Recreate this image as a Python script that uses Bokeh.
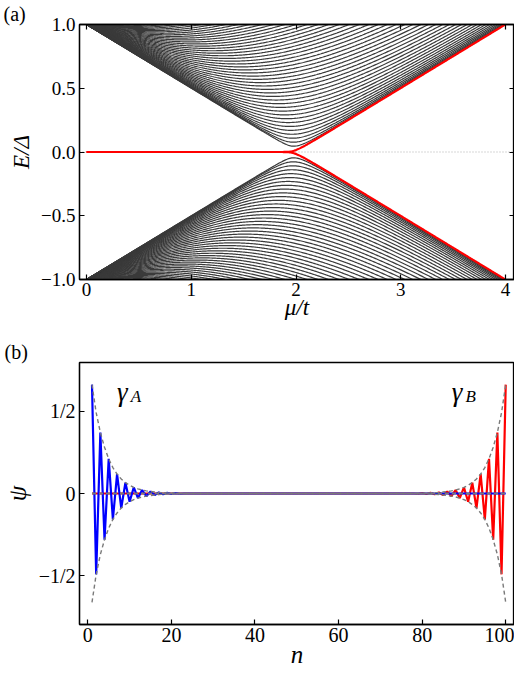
import numpy as np
from bokeh.plotting import figure
from bokeh.layouts import column
from bokeh.models import Range1d, FixedTicker, LinearAxis, Label, Span, Title
from bokeh.embed import file_html
from bokeh.resources import INLINE

# ---------------- data ----------------
# Panel (a): open Kitaev chain, parameters
N_SITES = 100          # number of sites (panel b runs n = 1..100)
HOPPING_T = 1.0        # t
PAIRING_DELTA = 1.0    # Delta = t (flat band at mu = 0, gap closes at mu = 2t)
MU_START, MU_END, MU_STEPS = 0.0, 4.0, 401

# Panel (b): Majorana wavefunction amplitudes, sites 1..22 (zero beyond)
PSI_A_HEAD = [0.66, -0.49, 0.37, -0.28, 0.21, -0.157, 0.118, -0.088, 0.066, -0.050,
              0.037, -0.028, 0.021, -0.016, 0.012, -0.009, 0.0067, -0.005, 0.0038,
              -0.0028, 0.0021, -0.0016]
SITES = list(range(1, N_SITES + 1))

A_XTICKS = [0, 1, 2, 3, 4]
A_YTICKS = [-1.0, -0.5, 0.0, 0.5, 1.0]
A_YLABELS = ["\u22121.0", "\u22120.5", "0.0", "0.5", "1.0"]
B_XTICKS = [0, 20, 40, 60, 80, 100]
B_YTICKS = [-0.5, 0.0, 0.5]
B_YLABELS = ["\u22121/2", "0", "1/2"]

SERIF = "'Liberation Serif', 'Times New Roman', serif"
GREY = "#3a3a3a"
RED = "#ff0000"
BLUE = "#0000ff"

# ---------------- panel (a): spectrum ----------------
mu = np.linspace(MU_START, MU_END, MU_STEPS)
M = 2 * N_SITES
spec = np.empty((MU_STEPS, M))
for i, m in enumerate(mu):
    off = np.empty(M - 1)
    off[0::2] = m / 2.0
    off[1::2] = (HOPPING_T + PAIRING_DELTA) / 2.0
    H = np.diag(off, 1) + np.diag(off, -1)
    spec[i] = np.linalg.eigvalsh(H) / PAIRING_DELTA

grey_xs, grey_ys, red_xs, red_ys = [], [], [], []
for j in range(M):
    e = spec[:, j].copy()
    if j in (N_SITES - 1, N_SITES):
        red_xs.append(mu)
        red_ys.append(e)
    else:
        e[np.abs(e) > 1.1] = np.nan
        if np.all(np.isnan(e)):
            continue
        grey_xs.append(mu)
        grey_ys.append(e)


def style(p, xt, yt, ylabels, tick_size, label_size):
    p.xaxis.ticker = FixedTicker(ticks=xt)
    p.yaxis.ticker = FixedTicker(ticks=yt)
    p.yaxis.major_label_overrides = dict(zip(yt, ylabels))
    for ax in (p.xaxis + p.yaxis):
        ax.major_tick_in = 5
        ax.major_tick_out = 0
        ax.minor_tick_line_color = None
        ax.major_label_text_font = SERIF
        ax.major_label_text_font_size = tick_size
        ax.major_label_text_color = "black"
        ax.axis_label_text_font = SERIF
        ax.axis_label_text_font_style = "italic"
        ax.axis_label_text_font_size = label_size
        ax.axis_label_text_color = "black"
        ax.axis_line_color = "black"
        ax.axis_line_width = 1.3
        ax.major_tick_line_color = "black"
        ax.major_tick_line_width = 1.2
    p.xaxis.major_label_standoff = 3
    p.yaxis.major_label_standoff = 4
    p.xgrid.visible = False
    p.ygrid.visible = False
    p.outline_line_color = "black"
    p.outline_line_width = 1.3
    p.background_fill_color = "white"
    p.border_fill_color = "white"


def panel_title(p, text, offset):
    p.add_layout(Title(text=text, align="left", offset=offset, standoff=0,
                       text_font=SERIF, text_font_size="20px", text_font_style="normal",
                       text_color="black"), "above")


pa = figure(width=514, height=322, output_backend="svg", toolbar_location=None,
            x_range=Range1d(-0.067, 4.086), y_range=Range1d(-1.0, 1.0),
            min_border_left=76, min_border_right=0, min_border_top=0, min_border_bottom=0)
style(pa, A_XTICKS, A_YTICKS, A_YLABELS, "19px", "23px")
pa.xaxis.axis_label = "\u03bc/t"
pa.yaxis.axis_label = "E/\u0394"
pa.xaxis.axis_label_standoff = -4
pa.yaxis.axis_label_standoff = 4

for loc, ticks in (("above", A_XTICKS), ("right", A_YTICKS)):
    ax = LinearAxis(ticker=FixedTicker(ticks=ticks), major_tick_in=5, major_tick_out=0,
                    minor_tick_line_color=None, axis_line_color="black", axis_line_width=1.3,
                    major_tick_line_color="black", major_tick_line_width=1.2,
                    major_label_text_font_size="0px", major_label_standoff=0,
                    major_label_overrides={t: "" for t in ticks})
    pa.add_layout(ax, loc)
panel_title(pa, "(a)", -76)

pa.add_layout(Span(location=0, dimension="width", line_color="#9a9a9a",
                   line_dash="1 2", line_width=0.8, level="underlay"))
pa.multi_line(grey_xs, grey_ys, line_color=GREY, line_width=1.2)
pa.multi_line(red_xs, red_ys, line_color=RED, line_width=2.2)

# ---------------- panel (b): Majorana wavefunctions ----------------
psi_a = np.zeros(N_SITES)
psi_a[:len(PSI_A_HEAD)] = PSI_A_HEAD
psi_b = psi_a[::-1].copy()
n = np.array(SITES)

pb = figure(width=514, height=348, output_backend="svg", toolbar_location=None,
            x_range=Range1d(-1.99, 102.1), y_range=Range1d(-0.794, 0.794),
            min_border_left=75, min_border_right=0, min_border_top=40, min_border_bottom=0)
style(pb, B_XTICKS, B_YTICKS, B_YLABELS, "20px", "25px")
pb.xaxis.axis_label = "n"
pb.yaxis.axis_label = "\u03c8"
pb.xaxis.axis_label_standoff = -4
pb.yaxis.axis_label_standoff = 5
panel_title(pb, "(b)", -75)

pb.line(n, psi_b, line_color=RED, line_width=2.2)
pb.line(n, psi_a, line_color=BLUE, line_width=2.2)
for env in (np.abs(psi_a), np.abs(psi_b)):
    pb.line(n, env, line_color="#7a7a7a", line_dash="4 3", line_width=1.4)
    pb.line(n, -env, line_color="#7a7a7a", line_dash="4 3", line_width=1.4)

for x0, sub in ((7.0, "A"), (87.1, "B")):
    pb.add_layout(Label(x=x0, y=0.617, text="\u03b3", text_font=SERIF, text_font_style="italic",
                        text_font_size="27px", text_baseline="alphabetic", text_color="black"))
    pb.add_layout(Label(x=x0 + 3.3, y=0.585, text=sub, text_font=SERIF, text_font_style="italic",
                        text_font_size="17px", text_baseline="alphabetic", text_color="black"))

layout = column(pa, pb, spacing=0)
open("out.html", "w").write(file_html(layout, INLINE))
